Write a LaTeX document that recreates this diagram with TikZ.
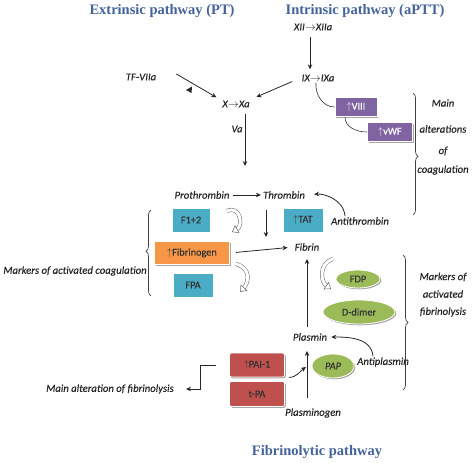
\documentclass[tikz,border=0pt]{standalone}
\usepackage{fontspec}
\setmainfont{Carlito}
\newfontfamily\lblfont{Carlito}[FakeBold=0.4, ItalicFeatures={FakeBold=0.4}]
\newfontfamily\titlefont{Liberation Serif}
\usetikzlibrary{arrows.meta,shapes.geometric,shadows,decorations.pathreplacing}
\definecolor{titleblue}{HTML}{44639C}
\definecolor{accblue}{HTML}{4BACC6}
\definecolor{accorange}{HTML}{F79646}
\definecolor{accpurple}{HTML}{8064A2}
\definecolor{accred}{HTML}{C0504D}
\definecolor{accgreen}{HTML}{9BBB59}
\begin{document}
\begin{tikzpicture}[x=1pt,y=-1pt,
  lbl/.style={font=\lblfont\fontsize{10.7}{12}\selectfont\itshape, text=black!85, inner sep=1pt},
  ttl/.style={font=\titlefont\bfseries\fontsize{14.5}{16}\selectfont, text=titleblue, inner sep=0pt},
  bx/.style={rectangle, draw=white, line width=0.8pt, font=\lblfont\fontsize{10.3}{12}\selectfont, text=black!80, inner sep=1pt,
    drop shadow={shadow xshift=1.3pt, shadow yshift=-1.3pt, fill=black, opacity=0.35}},
  ell/.style={ellipse, fill=accgreen, draw=white, line width=0.8pt, font=\lblfont\fontsize{10.3}{12}\selectfont, text=black!80, inner sep=0pt,
    drop shadow={shadow xshift=1.3pt, shadow yshift=-1.3pt, fill=black, opacity=0.35}},
  arr/.style={draw=black!85, line width=0.8pt, -{Stealth[length=5pt,width=4.5pt]}},
  plain/.style={draw=black!80, line width=0.6pt},
  hollow/.style={draw=black!60, line width=0.5pt, double=white, double distance=3pt, -{Triangle[open, length=6pt, width=9pt]}},
  brc/.style={decorate, decoration={brace, amplitude=5pt}, draw=black!75, line width=0.7pt}
]
\useasboundingbox (0,0) rectangle (474,463);

% titles
\node[ttl] (text) at (162,11) {Extrinsic pathway (PT)};
\node[ttl] (tint) at (365,11) {Intrinsic pathway (aPTT)};
\node[ttl] (tfib) at (317,452) {Fibrinolytic pathway};

% coagulation labels
\node[lbl] (xii) at (313,27) {XII$\rightarrow$XIIa};
\node[lbl] (ix) at (318,78) {IX$\rightarrow$IXa};
\node[lbl] (tf) at (141,77) {TF-VIIa};
\node[lbl] (x) at (236,104) {X$\rightarrow$Xa};
\node[lbl] (va) at (237,129) {Va};
\node[lbl] (pro) at (202,195) {Prothrombin};
\node[lbl] (thr) at (284,195) {Thrombin};
\node[lbl] (anti) at (360,221) {Antithrombin};
\node[lbl] (fibrin) at (307,247) {Fibrin};
\node[lbl] (pl) at (310,337) {Plasmin};
\node[lbl] (ap) at (383,362) {Antiplasmin};
\node[lbl] (plg) at (313,413) {Plasminogen};
\node[lbl] (mcoag) at (75,271) {Markers of activated coagulation};
\node[lbl] (mfib) at (110,389) {Main alteration of fibrinolysis};
\node[lbl] (ma1) at (443,103) {Main};
\node[lbl] (ma2) at (443,129) {alterations};
\node[lbl] (ma3) at (443,151) {of};
\node[lbl] (ma4) at (443,170) {coagulation};
\node[lbl] (mf1) at (443,277) {Markers of};
\node[lbl] (mf2) at (443,294) {activated};
\node[lbl] (mf3) at (443,312) {fibrinolysis};

% boxes
\node[bx, fill=accpurple, text=white, minimum width=42pt, minimum height=19pt] (viii) at (356,107) {$\uparrow$VIII};
\node[bx, fill=accpurple, text=white, minimum width=45pt, minimum height=19pt] (vwf) at (390,132) {$\uparrow$vWF};
\node[bx, fill=accblue, minimum width=38pt, minimum height=24pt] (f12) at (191,220) {F1+2};
\node[bx, fill=accorange, minimum width=75pt, minimum height=23pt] (fibg) at (192,253) {$\uparrow$Fibrinogen};
\node[bx, fill=accblue, minimum width=40pt, minimum height=24pt] (fpa) at (193,285) {FPA};
\node[bx, fill=accblue, minimum width=40pt, minimum height=24pt] (tat) at (303,220) {$\uparrow$TAT};
\node[bx, fill=accred, rounded corners=2pt, minimum width=55pt, minimum height=24pt] (pai) at (257,365) {$\uparrow$PAI-1};
\node[bx, fill=accred, rounded corners=2pt, minimum width=55pt, minimum height=25pt] (tpa) at (257,394) {t-PA};
\node[ell, minimum width=44pt, minimum height=18pt] (fdp) at (358,279) {FDP};
\node[ell, minimum width=72pt, minimum height=24pt] (dd) at (359,312) {D-dimer};
\node[ell, minimum width=42pt, minimum height=24pt, font=\lblfont\fontsize{10.3}{12}\selectfont\itshape] (pap) at (333,366) {PAP};

% coagulation arrows
\draw[arr, shorten <=5pt, shorten >=4pt] ([xshift=-3pt]xii.south) -- ([xshift=-8pt]ix.north);
\draw[arr, shorten >=2pt] ([xshift=19pt,yshift=3pt]tf.east) -- ([xshift=-3pt,yshift=1pt]x.north west);
\draw[arr, shorten <=9pt, shorten >=6pt] (ix.west) -- (x.north east);
\fill[black!85] (186,90) -- (192,86.5) -- (191.5,93) -- cycle;
\coordinate (vaend) at (245,166);
\draw[arr, shorten <=5pt] ([xshift=9pt]x.south) -- (vaend);
\draw[arr, shorten <=2pt, shorten >=1pt] (pro.east) -- (thr.west);
\draw[arr, shorten >=8pt] ([xshift=-15pt]anti.north) to[out=95,in=5] (thr.east);
\coordinate (thrend) at (266,237);
\draw[arr, shorten <=10pt] ([xshift=-18pt]thr.south) -- (thrend);
\draw[arr, shorten <=6pt, shorten >=6pt] (fibg.east) -- (fibrin.west);
\draw[arr, shorten <=5pt, shorten >=7pt] ([xshift=-3pt]pl.north) -- (fibrin.south);
\draw[arr, shorten <=9pt, shorten >=9pt] ([xshift=-6pt]plg.north) -- ([xshift=-3pt]pl.south);
\draw[arr, shorten >=3pt] ([xshift=-10pt]ap.north) to[out=95,in=0] (pl.east);
\coordinate (plj) at (306,367);
\draw[arr] ([xshift=4pt]pai.south east) to[out=0,in=215] (plj);
\draw[arr, shorten <=13pt, shorten >=11pt] (pai.west) -- (200,365) |- (mfib.east);

% connectors to purple boxes
\draw[plain] ([xshift=-2pt]ix.south) to[out=-95,in=180] (viii.west);
\draw[plain] ([xshift=-11pt]viii.south) to[out=-90,in=180] (vwf.west);

% hollow curly arrows
\draw[hollow] (227,211) .. controls (241,205) and (243,226) .. (232,232);
\draw[hollow] (236,264) .. controls (251,268) and (249,282) .. (240,292);
\draw[hollow] (333,259) .. controls (318,264) and (321,282) .. (331,289);

% braces
\coordinate (b1a) at (413,93); \coordinate (b1b) at (413,215);
\draw[brc, decoration={aspect=0.52}] (b1a) -- (b1b);
\coordinate (b2a) at (151,296); \coordinate (b2b) at (151,210);
\draw[brc, decoration={aspect=0.52}] (b2a) -- (b2b);
\coordinate (b3a) at (403,255); \coordinate (b3b) at (403,390);
\draw[brc] (b3a) -- (b3b);
\end{tikzpicture}
\end{document}
